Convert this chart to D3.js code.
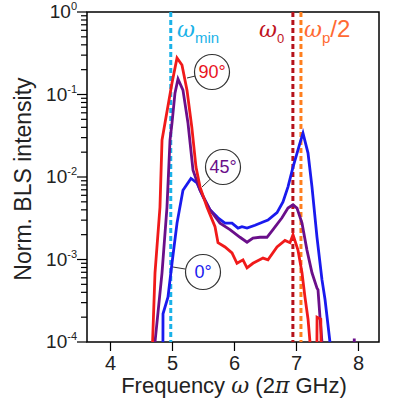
<!DOCTYPE html>
<html>
<head>
<meta charset="utf-8">
<script src="https://cdn.jsdelivr.net/npm/d3@7"></script>
<style>
  body { margin: 0; background: #fff; }
  svg { font-family: "Liberation Sans", Arial, sans-serif; }
</style>
</head>
<body>
<div id="chart"></div>
<script>
// frequencies (2pi GHz) and normalized BLS intensity
// values of 1e-5 are below the axis floor (clipped)
const freq90 = [4.64, 4.726, 4.806, 4.839, 4.887, 5.0, 5.081, 5.161, 5.242, 5.32, 5.387, 5.452, 5.565, 5.694, 5.742, 5.855, 5.968, 6.048, 6.145, 6.21, 6.306, 6.468, 6.548, 6.694, 6.823, 6.903, 6.952, 7.032, 7.097, 7.145, 7.194, 7.226, 7.25, 7.33, 7.34, 7.40, 7.42];
const bls90 = [1e-5, 6.9e-4, 4.3e-3, 0.028, 0.045, 0.138, 0.277, 0.228, 0.113, 0.040, 0.0132, 7.6e-3, 4.3e-3, 2.5e-3, 1.6e-3, 1.42e-3, 1.2e-3, 9.0e-4, 9.9e-4, 7.9e-4, 9.0e-4, 1.04e-3, 9.9e-4, 1.42e-3, 1.7e-3, 1.6e-3, 2.0e-3, 1.3e-3, 6.9e-4, 3.5e-4, 1.9e-4, 1e-4, 1e-5, 1e-5, 2.0e-4, 1.9e-4, 1e-5];

const freq45 = [4.66, 4.726, 4.839, 4.919, 4.968, 5.0, 5.048, 5.097, 5.177, 5.258, 5.339, 5.452, 5.613, 5.774, 5.935, 6.097, 6.21, 6.306, 6.419, 6.532, 6.629, 6.774, 6.871, 6.952, 7.016, 7.097, 7.177, 7.258, 7.339, 7.355, 7.387, 7.419, 7.45, 7.92, 7.94, 7.96];
const bls45 = [1e-5, 1e-4, 6.9e-4, 4.3e-3, 0.028, 0.045, 0.104, 0.154, 0.113, 0.045, 0.0121, 6.9e-3, 4.0e-3, 2.76e-3, 2.3e-3, 1.86e-3, 1.62e-3, 1.82e-3, 1.86e-3, 1.86e-3, 2.3e-3, 3.2e-3, 4.2e-3, 4.6e-3, 4.2e-3, 2.76e-3, 1.3e-3, 6.9e-4, 4.5e-4, 4.3e-4, 2.0e-4, 1e-4, 1e-5, 1e-5, 1.1e-4, 1e-5];

const freq0 = [4.85, 4.855, 4.935, 5.0, 5.081, 5.177, 5.306, 5.403, 5.5, 5.613, 5.742, 5.855, 5.968, 6.065, 6.129, 6.21, 6.339, 6.468, 6.548, 6.694, 6.79, 6.871, 6.952, 7.065, 7.113, 7.194, 7.258, 7.339, 7.419, 7.468, 7.548, 7.57];
const bls0 = [1e-5, 2.2e-4, 3.5e-4, 9.0e-4, 2.76e-3, 6.9e-3, 9.6e-3, 8.5e-3, 5.8e-3, 4.0e-3, 3.2e-3, 2.76e-3, 2.76e-3, 2.4e-3, 2.5e-3, 2.4e-3, 2.6e-3, 2.85e-3, 3.0e-3, 3.7e-3, 5.0e-3, 7.6e-3, 0.0132, 0.026, 0.034, 0.0195, 7.6e-3, 1.86e-3, 5.7e-4, 3.3e-4, 1e-4, 1e-5];

const xTicks = [4, 5, 6, 7, 8];
const yExponents = [0, -1, -2, -3, -4];

const omegaMin = 4.98, omega0 = 6.95, omegaP2 = 7.08;

const W = 400, H = 400;
const margin = { top: 12, right: 21, bottom: 58, left: 87 };
const width = W - margin.left - margin.right;
const height = H - margin.top - margin.bottom;

const svg = d3.select('#chart').append('svg')
  .attr('width', W).attr('height', H);

svg.append('defs').append('clipPath').attr('id', 'clip')
  .append('rect').attr('width', width).attr('height', height);

const g = svg.append('g').attr('transform', `translate(${margin.left},${margin.top})`);

const x = d3.scaleLinear().domain([3.629, 8.339]).range([0, width]);
const y = d3.scaleLog().domain([1e-4, 1]).range([height, 0]);

// y axis: major ticks + minor ticks, outward
const minor = [];
for (let e = -4; e < 0; e++) for (let m = 2; m <= 9; m++) minor.push(m * Math.pow(10, e));

const yAxisG = g.append('g').attr('class', 'y-axis');
yAxisG.selectAll('.minor').data(minor).enter().append('line')
  .attr('x1', -6).attr('x2', 0)
  .attr('y1', d => y(d)).attr('y2', d => y(d))
  .attr('stroke', '#000').attr('stroke-width', 1.2);
yAxisG.selectAll('.major').data(yExponents).enter().append('line')
  .attr('x1', -10).attr('x2', 0)
  .attr('y1', d => y(Math.pow(10, d))).attr('y2', d => y(Math.pow(10, d)))
  .attr('stroke', '#000').attr('stroke-width', 1.2);

const yl = yAxisG.selectAll('.lab').data(yExponents).enter().append('text')
  .attr('x', -10).attr('y', d => y(Math.pow(10, d)) + 6)
  .attr('text-anchor', 'end').attr('font-size', 19).attr('fill', '#222');
yl.append('tspan').text('10');
yl.append('tspan').attr('dy', -8).attr('font-size', 11).text(d => d === 0 ? '0' : d);

// x axis
const xAxis = d3.axisBottom(x).tickValues(xTicks).tickSize(9).tickSizeOuter(0).tickFormat(d3.format('d'));
const xg = g.append('g').attr('transform', `translate(0,${height})`).call(xAxis);
xg.select('.domain').remove();
xg.selectAll('line').attr('stroke-width', 1.2);
xg.selectAll('text').attr('font-size', 20).attr('fill', '#222').attr('dy', '0.82em')
  .attr('font-family', '"Liberation Sans", Arial, sans-serif');

// frame
g.append('rect').attr('width', width).attr('height', height)
  .attr('fill', 'none').attr('stroke', '#000').attr('stroke-width', 1.5);

// reference lines
const refs = [
  { w: omegaMin, c: '#1ab2e8' },
  { w: omega0, c: '#b5121b' },
  { w: omegaP2, c: '#ff7f1e' }
];
g.selectAll('.ref').data(refs).enter().append('line')
  .attr('x1', d => x(d.w)).attr('x2', d => x(d.w))
  .attr('y1', 0).attr('y2', height)
  .attr('stroke', d => d.c).attr('stroke-width', 3).attr('stroke-dasharray', '5,3');

// curves
const line = d3.line().x(d => x(d[0])).y(d => y(d[1]));
const series = [
  { f: freq0, v: bls0, c: '#1a1aee' },
  { f: freq45, v: bls45, c: '#6a0f8a' },
  { f: freq90, v: bls90, c: '#f01a1a' }
];
const plot = g.append('g').attr('clip-path', 'url(#clip)');
plot.selectAll('.curve').data(series).enter().append('path')
  .attr('d', s => line(d3.zip(s.f, s.v)))
  .attr('fill', 'none').attr('stroke', s => s.c).attr('stroke-width', 2.8)
  .attr('stroke-linejoin', 'miter');

// callouts
const callouts = [
  { t: '90°', c: '#e8141e', cx: 212, cy: 72, lx: 187, ly: 78 },
  { t: '45°', c: '#6a0f8a', cx: 223, cy: 167, lx: 202, ly: 187 },
  { t: '0°', c: '#1a1aee', cx: 203, cy: 272, lx: 173, ly: 267 }
];
const r = 17.5;
callouts.forEach(d => {
  const a = Math.atan2(d.ly - d.cy, d.lx - d.cx);
  svg.append('line')
    .attr('x1', d.lx).attr('y1', d.ly)
    .attr('x2', d.cx + r * Math.cos(a)).attr('y2', d.cy + r * Math.sin(a))
    .attr('stroke', '#333').attr('stroke-width', 1);
  svg.append('circle').attr('cx', d.cx).attr('cy', d.cy).attr('r', r)
    .attr('fill', '#fff').attr('stroke', '#333').attr('stroke-width', 1.2);
  svg.append('text').attr('x', d.cx).attr('y', d.cy + 6)
    .attr('text-anchor', 'middle').attr('font-size', 18).attr('fill', d.c).text(d.t);
});

// reference labels
const omegaFont = '"DejaVu Serif", "Liberation Serif", serif';
const lab1 = svg.append('text').attr('x', 177).attr('y', 37).attr('fill', '#1ab2e8');
lab1.append('tspan').attr('font-family', omegaFont).attr('font-style', 'italic').attr('font-size', 22).text('ω');
lab1.append('tspan').attr('dy', 6).attr('font-size', 15).text('min');

const lab2 = svg.append('text').attr('x', 259).attr('y', 37).attr('fill', '#c0141e');
lab2.append('tspan').attr('font-family', omegaFont).attr('font-style', 'italic').attr('font-size', 22).text('ω');
lab2.append('tspan').attr('dy', 6).attr('font-size', 13).text('0');

const lab3 = svg.append('text').attr('x', 304).attr('y', 37).attr('fill', '#ff6a33');
lab3.append('tspan').attr('font-family', omegaFont).attr('font-style', 'italic').attr('font-size', 22).text('ω');
lab3.append('tspan').attr('dy', 6).attr('font-size', 15).text('p');
lab3.append('tspan').attr('dy', -6).attr('font-size', 24).text('/2');

// axis titles
const xt = svg.append('text').attr('x', margin.left + x(6)).attr('y', 393)
  .attr('text-anchor', 'middle').attr('font-size', 22).attr('fill', '#222');
xt.append('tspan').text('Frequency ');
xt.append('tspan').attr('font-family', omegaFont).attr('font-style', 'italic').text('ω');
xt.append('tspan').text(' (2');
xt.append('tspan').attr('font-family', omegaFont).attr('font-style', 'italic').text('π');
xt.append('tspan').text(' GHz)');

svg.append('text')
  .attr('transform', `translate(31,${margin.top + height / 2 + 2}) rotate(-90)`)
  .attr('text-anchor', 'middle').attr('font-size', 23).attr('fill', '#222')
  .text('Norm. BLS intensity');
</script>
</body>
</html>
